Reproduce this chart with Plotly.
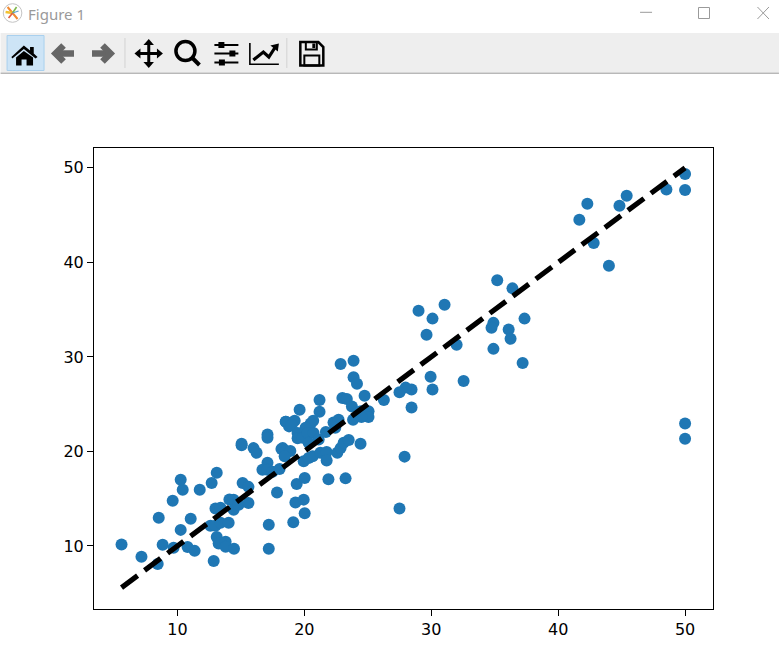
import plotly.graph_objects as go

measured = [5.6, 7.17, 8.45, 8.84, 9.7, 8.53, 9.63, 10.42, 10.26, 10.26, 11.05, 10.8, 11.36, 11.76, 12.7, 13.1,
            12.86, 13.0, 13.4, 12.6, 13.0, 13.4, 13.1, 13.25, 13.8, 13.8, 14.46, 14.04, 14.1, 14.43, 14.43, 14.83,
            15.6, 15.14, 15.6, 15.06, 15.06, 16.0, 16.24, 17.1, 17.1, 17.1, 16.7, 17.1, 17.5, 18.05, 17.85, 17.2,
            17.2, 18.2, 18.55, 18.8, 18.5, 22.86, 23.88, 23.88, 24.15, 24.75, 21.2, 23.0, 23.35, 23.75, 24.46, 25.06,
            25.06, 24.5, 23.84, 19.63, 21.2, 18.53, 19.24, 19.0, 20.7, 20.5, 20.1, 19.47, 19.47, 19.87, 20.26, 20.73,
            21.13, 20.34, 21.7, 22.3, 22.7, 22.44, 18.3, 18.53, 18.9, 18.45, 19.95, 20.34, 20.66, 21.26, 21.76, 21.76,
            22.6, 22.86, 23.1, 23.5, 24.43, 19.4, 20.03, 21.9, 23.25, 19.3, 19.95, 20.03, 19.13, 29.0, 31.05, 30.1,
            29.63, 32.0, 29.95, 30.1, 32.55, 28.45, 27.98, 27.5, 28.45, 27.9, 27.5, 26.27, 34.9, 34.75, 34.9, 36.1,
            36.25, 37.2, 37.35, 36.4, 35.2, 42.3, 41.67, 42.8, 44.0, 44.83, 45.4, 48.53, 50.0, 50.0, 50.0, 50.0]
predicted = [10.15, 8.85, 8.1, 10.12, 9.8, 12.98, 14.78, 15.95, 17.0, 11.7, 12.88, 9.9, 9.48, 15.95, 16.65, 17.75,
             8.42, 13.95, 14.05, 12.13, 12.13, 12.45, 10.95, 10.25, 10.45, 9.92, 9.7, 12.45, 14.92, 14.9, 13.83, 14.35,
             14.55, 16.65, 16.25, 20.65, 20.8, 20.35, 19.85, 21.8, 21.45, 18.8, 18.05, 18.05, 17.85, 18.15, 15.65, 12.25,
             9.7, 20.25, 23.15, 22.65, 19.85, 29.25, 29.6, 27.85, 27.15, 25.9, 25.45, 25.65, 25.55, 24.75, 24.25, 24.25,
             23.65, 23.65, 23.35, 24.4, 24.2, 23.15, 23.25, 22.8, 23.25, 22.95, 22.5, 21.95, 21.4, 21.45, 21.95, 21.95,
             21.25, 20.92, 22.05, 23.05, 23.35, 22.5, 20.35, 20.05, 20.05, 19.5, 18.95, 19.3, 19.5, 19.85, 19.95, 19.05,
             19.85, 20.35, 20.92, 21.2, 20.8, 16.55, 17.2, 17.05, 17.15, 14.6, 14.9, 13.45, 12.5, 34.88, 35.52, 34.05,
             32.35, 31.29, 27.9, 26.55, 27.45, 26.55, 26.75, 26.25, 24.65, 19.45, 13.95, 25.45, 33.6, 33.08, 30.85, 32.9,
             31.92, 29.35, 34.05, 37.25, 38.1, 46.2, 44.5, 42.05, 39.65, 46.0, 47.05, 47.7, 49.35, 47.65, 22.95, 21.35]
line_x = [5.6, 50.0]
line_y = [5.6, 50.0]
tick_values = [10, 20, 30, 40, 50]
window_title = "Figure 1"

W, H = 779, 648
L, R, T, B = 93.5, 713.0, 148.0, 609.0
px = lambda x: (x - L) / (R - L)
py = lambda y: (B - y) / (B - T)

shapes = []
def poly(points, fill=None, stroke=None, width=0, closed=True):
    d = "M" + " L".join(f"{px(a):.5f} {py(b):.5f}" for a, b in points) + (" Z" if closed else "")
    shapes.append(dict(type="path", xref="paper", yref="paper", path=d,
                       fillcolor=fill if fill else "rgba(0,0,0,0)",
                       line=dict(color=stroke if stroke else "rgba(0,0,0,0)", width=width)))
def rect(x0, y0, x1, y1, fill=None, stroke=None, width=0):
    poly([(x0, y0), (x1, y0), (x1, y1), (x0, y1)], fill, stroke, width)
def seg(points, color, width):
    poly(points, None, color, width, closed=False)
def circle(cx, cy, r, fill=None, stroke=None, width=0):
    shapes.append(dict(type="circle", xref="paper", yref="paper",
                       x0=px(cx - r), x1=px(cx + r), y0=py(cy + r), y1=py(cy - r),
                       fillcolor=fill if fill else "rgba(0,0,0,0)",
                       line=dict(color=stroke if stroke else "rgba(0,0,0,0)", width=width)))

# toolbar
rect(0, 33, W, 72.5, fill="#eeeeee")
rect(0, 72.5, W, 74, fill="#b8b8b8")
rect(6.5, 35.5, 43.5, 70.5, fill="#cde4f6", stroke="#a9d0ee", width=1)
for sx in (124.5, 286.5):
    rect(sx - 0.5, 38, sx + 0.5, 68, fill="#d2d2d2")

# home
poly([(23.3, 45.5), (29.5, 50.5), (29.5, 47), (33.2, 47), (33.2, 53.5), (37, 57), (35, 58.5), (23.3, 49), (11.8, 58.5), (10.8, 57)], fill="#000000")
poly([(15.5, 57.5), (23.3, 51), (32.5, 57.5), (32.5, 65.5), (26, 65.5), (26, 59.5), (21, 59.5), (21, 65.5), (15.5, 65.5)], fill="#000000")
# back / forward
seg([(73.5, 53.5), (55, 53.5)], "#666666", 6.5)
seg([(63, 45.5), (55, 53.5), (63, 61.5)], "#666666", 6.5)
seg([(91.5, 53.5), (110, 53.5)], "#666666", 6.5)
seg([(102, 45.5), (110, 53.5), (102, 61.5)], "#666666", 6.5)
# move
seg([(148.3, 42), (148.3, 65)], "#000000", 3)
seg([(136.5, 53.5), (160, 53.5)], "#000000", 3)
poly([(148.3, 39), (153.5, 45), (143, 45)], fill="#000000")
poly([(148.3, 68), (153.5, 62), (143, 62)], fill="#000000")
poly([(134, 53.5), (140, 48.5), (140, 58.5)], fill="#000000")
poly([(162.5, 53.5), (156.5, 48.5), (156.5, 58.5)], fill="#000000")
# zoom
circle(185, 51, 9.5, stroke="#000000", width=3.5)
seg([(192, 58), (199, 65)], "#000000", 4)
# sliders
for yy, kx in ((45, 221), (53.5, 232), (62.5, 221.5)):
    seg([(214, yy), (238, yy)], "#000000", 2)
    rect(kx - 3, yy - 3, kx + 3, yy + 3, fill="#000000")
# chart
seg([(249.5, 43), (249.5, 64.3), (278.5, 64.3)], "#000000", 1.6)
seg([(253, 60), (263, 52), (268.5, 57), (275, 47)], "#000000", 3.2)
poly([(270, 45.5), (278.5, 43.5), (277.5, 51.5)], fill="#000000")
# save
poly([(300, 42), (318, 42), (323, 47), (323, 65.5), (300, 65.5)], stroke="#000000", width=2.5)
rect(305.5, 42, 316.5, 49.5, stroke="#000000", width=2)
rect(312, 43.5, 315, 48, fill="#000000")
rect(304, 55.5, 319, 65.5, stroke="#000000", width=2)

# window controls
seg([(640, 12.3), (652, 12.3)], "#9a9a9a", 1)
rect(698.5, 7.5, 709.5, 18.5, stroke="#9a9a9a", width=1)
seg([(757.5, 7), (769, 19)], "#9a9a9a", 1)
seg([(769, 7), (757.5, 19)], "#9a9a9a", 1)

# window logo
circle(12, 13, 9.3, fill="#ffffff", stroke="#c4c4c4", width=1)
seg([(7, 7), (12, 13), (17, 19)], "#f08a32", 2)
seg([(5, 12), (12, 13)], "#f2c230", 2.5)
seg([(12, 13), (16, 7)], "#7cb84a", 1.6)
seg([(12, 13), (8, 18)], "#e05a40", 1.6)
seg([(12, 13), (18, 11)], "#5fa0d0", 1.2)

fig = go.Figure()
fig.add_trace(go.Scatter(x=measured, y=predicted, mode="markers",
                         marker=dict(color="#1f77b4", size=12, line=dict(width=0)),
                         hoverinfo="skip", showlegend=False))
fig.add_trace(go.Scatter(x=line_x, y=line_y, mode="lines",
                         line=dict(color="#000000", width=5.2, dash="20px,8.7px"),
                         hoverinfo="skip", showlegend=False))

axis = dict(tickmode="array", tickvals=tick_values, ticks="outside", ticklen=6, tickwidth=1.1,
            tickcolor="#000000", showgrid=False, zeroline=False, showline=True, linecolor="#000000",
            linewidth=1.1, mirror=True, automargin=False,
            tickfont=dict(family="DejaVu Sans", size=16, color="#000000"))

fig.update_layout(
    width=W, height=H, autosize=False, paper_bgcolor="#ffffff", plot_bgcolor="#ffffff",
    margin=dict(l=L, r=W - R, t=T, b=H - B, pad=0), showlegend=False,
    xaxis=dict(range=[3.43, 52.2], **axis),
    yaxis=dict(range=[3.33, 52.1], **axis),
    shapes=shapes,
    annotations=[dict(text=window_title, xref="paper", yref="paper", x=px(25), y=py(13.5),
                      xanchor="left", yanchor="middle", showarrow=False,
                      font=dict(family="Noto Sans", size=15, color="#9a9a9a"))],
)
fig.write_html("out.html", config=dict(displayModeBar=False),
               post_script="document.body.style.margin='0';document.body.style.overflow='hidden';")
